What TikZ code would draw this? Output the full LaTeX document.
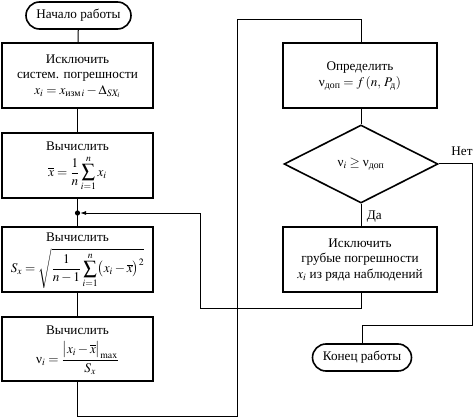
\documentclass[tikz,border=0pt]{standalone}
\usepackage{amsmath}
\usepackage{mathptmx}
\usepackage{fontspec}
\setmainfont{Liberation Serif}
\usetikzlibrary{shapes.geometric,arrows.meta}
\newcommand\stk[1]{\begin{tabular}{@{}c@{}}#1\end{tabular}}
\begin{document}
\begin{tikzpicture}[x=1pt,y=-1pt,
  font=\fontsize{13.2}{15.5}\selectfont,
  blk/.style={draw,line width=1.6pt,minimum width=151pt,minimum height=65pt,inner sep=1pt},
  term/.style={draw,line width=1.6pt,rounded corners=13.5pt,minimum height=27pt,inner sep=2pt},
  dec/.style={draw,diamond,line width=1.6pt,minimum width=154pt,minimum height=78pt,inner sep=0pt},
  con/.style={line width=1pt}]
\useasboundingbox (0,0) rectangle (474,417);
\node[term,minimum width=105pt] (start) at (78.5,15.5) {Начало работы};
\node[blk] (b1) at (77.5,75.5) {\stk{Исключить\\систем. погрешности\\$x_i = x_{\text{изм}\,i} - \Delta_{SX_i}$}};
\node[blk] (b2) at (77.5,165.5) {\stk{Вычислить\\[1pt]$\displaystyle\overline{x} = \frac{1}{n}\sum_{i=1}^{n} x_i$}};
\coordinate (dot) at (77.5,213);
\node[blk] (b3) at (77.5,259.5) {\stk{Вычислить\\[3pt]$\displaystyle S_x = \sqrt{\frac{1}{n-1}\sum_{i=1}^{n}\bigl(x_i - \overline{x}\bigr)^2}$}};
\node[blk,minimum height=64pt] (b4) at (77.5,349) {\stk{Вычислить\\[3pt]$\displaystyle \text{ν}_i = \frac{\bigl|x_i - \overline{x}\bigr|_{\max}}{S_x}$}};
\node[blk,minimum width=154pt] (b5) at (360,75.5) {\stk{Определить\\$\text{ν}_{\text{доп}} = f\,(n,\,P_{\text{д}})$}};
\node[dec] (d) at (361,164) {$\text{ν}_i \geq \text{ν}_{\text{доп}}$};
\node[blk,minimum width=154pt] (b6) at (360,259.5) {\stk{Исключить\\грубые погрешности\\$x_i$ из ряда наблюдений}};
\node[term,minimum width=99pt] (end) at (362,357.5) {Конец работы};
\coordinate (p1) at (77.5,416);
\coordinate (p2) at (237,416);
\coordinate (p3) at (237,20);
\coordinate (p4) at (361,20);
\coordinate (q1) at (472,164);
\coordinate (q2) at (472,325);
\coordinate (q3) at (362,325);
\coordinate (r1) at (361,308);
\coordinate (r2) at (200,308);
\coordinate (r3) at (200,213);
\draw[con] (start) -- (b1);
\draw[con] (b1) -- (b2);
\draw[con] (b2) -- (b3);
\draw[con] (b3) -- (b4);
\draw[con] (b4.south) -- (p1) -- (p2) -- (p3) -- (p4) -- (b5.north -| p4);
\draw[con] (b5.south -| d.north) -- (d.north);
\draw[con] (d.south) -- (b6.north -| d.south) node[pos=0.55,right=2pt] {Да};
\draw[con] (d.east) -- (q1) -- (q2) -- (q3) -- (end.north);
\node (net) at (462,151) {Нет};
\draw[con,-{Latex[length=6pt,width=4pt]}] (b6.south -| r1) -- (r1) -- (r2) -- (r3) -- ([xshift=2.5pt]dot);
\fill (dot) circle (2.6pt);
\end{tikzpicture}
\end{document}
